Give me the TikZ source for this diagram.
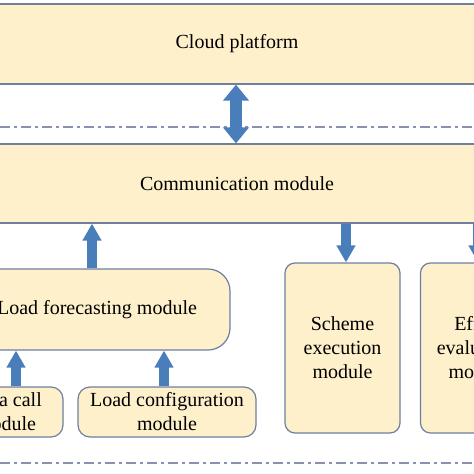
\documentclass[tikz,border=0pt]{standalone}
\usepackage{fontspec}
\setmainfont{Liberation Serif}
\usetikzlibrary{arrows.meta,calc}
\definecolor{boxfill}{HTML}{FDF0CA}
\definecolor{boxline}{HTML}{6F7FA0}
\definecolor{arrowblue}{HTML}{4A7EBB}
\definecolor{dashcol}{HTML}{8A90B0}
\begin{document}
\begin{tikzpicture}[x=1pt,y=-1pt,
  box/.style={draw=boxline, fill=boxfill, line width=1.2pt, inner sep=0pt,
    font=\fontsize{20}{24}\selectfont, align=center},
  smallarr/.style={draw=arrowblue, line width=9.5pt, -{Triangle[width=18pt,length=17pt]}},
  bigarr/.style={draw=arrowblue, line width=12.5pt, {Triangle[width=25pt,length=16pt]}-{Triangle[width=25pt,length=16pt]}},
  sep/.style={draw=dashcol, line width=1.4pt, dash pattern=on 10pt off 4pt on 3pt off 4pt}]
\clip (0,0) rectangle (474,474);
\fill[white] (0,0) rectangle (474,474);

\node[box, minimum width=500pt, minimum height=80pt] (cloud) at (237,44) {Cloud platform};
\node[box, minimum width=500pt, minimum height=79pt] (comm) at (237,183.5) {Communication module};
\node[box, minimum width=266pt, minimum height=81pt, rounded corners=22pt] (forecast) at (97,309.5) {Load forecasting module};
\node[box, minimum width=114pt, minimum height=50pt, rounded corners=12pt] (data) at (6,412) {Data call\\module};
\node[box, minimum width=178pt, minimum height=50pt, rounded corners=12pt] (config) at (167,412) {Load configuration\\module};
\node[box, minimum width=115pt, minimum height=170pt, rounded corners=10pt] (scheme) at (342.5,348) {Scheme\\execution\\module};
\node[box, minimum width=116pt, minimum height=170pt, rounded corners=10pt] (effect) at (478.5,348) {Effect\\evaluation\\module};

\coordinate (s1l) at (0,127);
\coordinate (s1r) at (474,127);
\coordinate (s2l) at (0,463);
\coordinate (s2r) at (474,463);
\draw[sep] (s1l) -- (s1r);
\draw[sep] (s2l) -- (s2r);

\draw[bigarr] ([xshift=-1pt]cloud.south) -- ([xshift=-1pt]comm.north);
\draw[smallarr] ([xshift=-5pt]forecast.north) -- ([xshift=-5pt]forecast.north |- comm.south);
\draw[smallarr] ([xshift=3.5pt]scheme.north |- comm.south) -- ([xshift=3.5pt]scheme.north);
\draw[smallarr] ([xshift=-0.5pt]effect.north |- comm.south) -- ([xshift=-0.5pt]effect.north);
\draw[smallarr] ([xshift=10pt]data.north) -- ([xshift=10pt]data.north |- forecast.south);
\draw[smallarr] ([xshift=-3pt]config.north) -- ([xshift=-3pt]config.north |- forecast.south);
\end{tikzpicture}
\end{document}
